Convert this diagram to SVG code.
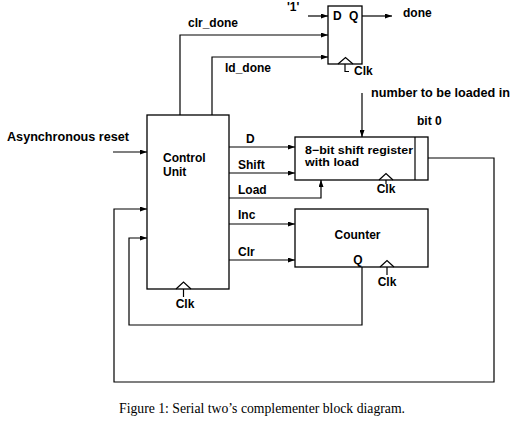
<svg xmlns="http://www.w3.org/2000/svg" width="516" height="429" viewBox="0 0 516 429">
<defs>
<marker id="ah" markerWidth="7" markerHeight="5" refX="7" refY="2.5" orient="auto" markerUnits="userSpaceOnUse">
<path d="M0,0 L7,2.5 L0,5 Z" fill="#000"/>
</marker>
<style>
.box{fill:#fff;stroke:#000;stroke-width:1.3}
.ln{fill:none;stroke:#000;stroke-width:1.2}
.ar{fill:none;stroke:#000;stroke-width:1.2;marker-end:url(#ah)}
.t{font-family:"Liberation Sans",Arial,sans-serif;font-weight:bold;font-size:12px;fill:#000}
.s{font-size:11px}
.cap{font-family:"Liberation Serif","Times New Roman",serif;font-size:14px;fill:#000}
</style>
</defs>
<rect width="516" height="429" fill="#fff"/>

<g id="connectors">
<line class="ar" x1="113" y1="152" x2="147" y2="152"/>
<polyline class="ar" points="180,115 180,35 328,35"/>
<polyline class="ar" points="212,115 212,57 328,57"/>
<line class="ar" x1="308" y1="16" x2="328" y2="16"/>
<line class="ar" x1="362" y1="16" x2="392" y2="16"/>
<line class="ar" x1="229" y1="147" x2="295" y2="147"/>
<line class="ar" x1="229" y1="173" x2="295" y2="173"/>
<polyline class="ar" points="229,198 321,198 321,180"/>
<line class="ar" x1="229" y1="224" x2="295" y2="224"/>
<line class="ar" x1="229" y1="260" x2="295" y2="260"/>
<line class="ar" x1="362" y1="93" x2="362" y2="137"/>
<polyline class="ar" points="419,158 494,158 494,382 114,382 114,209 147,209"/>
<polyline class="ar" points="362,267 362,325 129,325 129,238 147,238"/>
</g>

<g id="flipflop">
<rect class="box" x="328" y="6" width="34" height="58"/>
<polyline class="ln" points="338,64 345.5,57.5 353,64"/>
<polyline class="ln" points="345,64 345,71.5 349,71.5"/>
<text class="t" x="333" y="20">D</text>
<text class="t" x="349" y="20">Q</text>
<text class="t" x="354" y="75">Clk</text>
</g>

<g id="control-unit">
<rect class="box" x="147" y="115" width="82" height="174"/>
<polyline class="ln" points="176,289 183.5,282 191,289"/>
<line class="ln" x1="183.5" y1="289" x2="183.5" y2="297"/>
<text class="t" x="163" y="162">Control</text>
<text class="t" x="163" y="176">Unit</text>
<text class="t" x="185" y="308" text-anchor="middle">Clk</text>
</g>

<g id="shift-register">
<rect class="box" x="295" y="137" width="133" height="43"/>
<line class="ln" x1="415" y1="137" x2="415" y2="180"/>
<polyline class="ln" points="379,180 386,173.5 393,180"/>
<line class="ln" x1="386" y1="180" x2="386" y2="184"/>
<text class="t s" x="305" y="154" textLength="108" lengthAdjust="spacingAndGlyphs">8−bit shift register</text>
<text class="t s" x="305" y="166" textLength="54" lengthAdjust="spacingAndGlyphs">with load</text>
<text class="t" x="386" y="193" text-anchor="middle">Clk</text>
</g>

<g id="counter">
<rect class="box" x="295" y="209" width="133" height="58"/>
<polyline class="ln" points="380,267 387,260.5 394,267"/>
<line class="ln" x1="387" y1="267" x2="387" y2="275"/>
<text class="t" x="357.5" y="239" text-anchor="middle">Counter</text>
<text class="t" x="358" y="264" text-anchor="middle">Q</text>
<text class="t" x="387" y="286" text-anchor="middle">Clk</text>
</g>

<g id="labels">
<text class="t" x="7" y="141" textLength="122" lengthAdjust="spacingAndGlyphs">Asynchronous reset</text>
<text class="t" x="188" y="27">clr_done</text>
<text class="t" x="225" y="72">ld_done</text>
<text class="t" x="287" y="11">'1'</text>
<text class="t" x="403" y="17">done</text>
<text class="t" x="371" y="97" textLength="139" lengthAdjust="spacingAndGlyphs">number to be loaded in</text>
<text class="t" x="417" y="125">bit 0</text>
<text class="t" x="246" y="143">D</text>
<text class="t" x="238" y="169">Shift</text>
<text class="t" x="238" y="194">Load</text>
<text class="t" x="238" y="219">Inc</text>
<text class="t" x="238" y="256">Clr</text>
</g>

<text class="cap" x="119" y="413" textLength="286" lengthAdjust="spacingAndGlyphs">Figure 1: Serial two’s complementer block diagram.</text>
</svg>
